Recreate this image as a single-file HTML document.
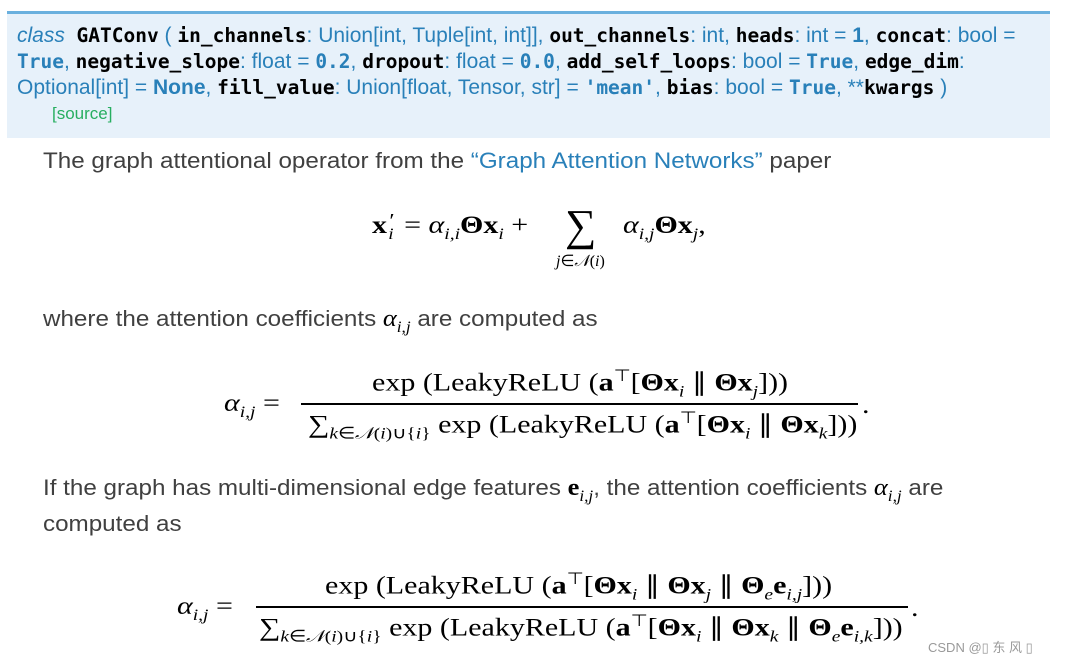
<!DOCTYPE html>
<html><head><meta charset="utf-8"><style>
body{margin:0;width:1066px;height:664px;background:#fff;position:relative;overflow:hidden;font-family:"Liberation Sans",sans-serif;}
.box{position:absolute;left:7px;top:11px;width:1043px;height:124px;background:#e7f1fa;border-top:3px solid #6ab0de;}
.l{position:absolute;white-space:nowrap;font-size:21px;color:#2980b9;transform-origin:left top;}
.m{font-family:"DejaVu Sans Mono","Liberation Mono",monospace;font-weight:bold;color:#000;font-size:19.5px;}
.v{font-family:"DejaVu Sans Mono","Liberation Mono",monospace;font-weight:bold;color:#2980b9;font-size:19.5px;}
.k{font-weight:bold;color:#2980b9}
.p{position:absolute;white-space:nowrap;font-size:22px;color:#404040;transform:scaleX(1.1);transform-origin:left top;}
.a{color:#2980b9}
.mt{position:absolute;white-space:nowrap;font-family:"Liberation Serif",serif;font-size:25px;color:#000;transform:scaleX(1.2);transform-origin:left top;}
.mt i{font-style:italic}
.mt b{font-weight:bold}
sub,sup{font-size:65%;}
.hr{position:absolute;height:1.5px;background:#000;}
</style></head><body>
<div class="box"></div>
<div class="l" style="left:17px;top:24px;"><i>class</i>&nbsp; <span class="m">GATConv</span> ( <span class="m">in_channels</span>: Union[int, Tuple[int, int]], <span class="m">out_channels</span>: int, <span class="m">heads</span>: int = <span class="k">1</span>, <span class="m">concat</span>: bool =</div>
<div class="l" style="left:17px;top:50px;"><span class="v">True</span>, <span class="m">negative_slope</span>: float = <span class="v">0.2</span>, <span class="m">dropout</span>: float = <span class="v">0.0</span>, <span class="m">add_self_loops</span>: bool = <span class="v">True</span>, <span class="m">edge_dim</span>:</div>
<div class="l" style="left:17px;top:76px;">Optional[int] = <span class="k">None</span>, <span class="m">fill_value</span>: Union[float, Tensor, str] = <span class="v">'mean'</span>, <span class="m">bias</span>: bool = <span class="v">True</span>, **<span class="m">kwargs</span> )</div>
<div class="l" style="left:52px;top:104px;font-size:17px;color:#27ae60;">[source]</div>

<div class="p" style="left:43px;top:148px;">The graph attentional operator from the <span class="a">“Graph Attention Networks”</span> paper</div>
<div class="mt" style="left:372px;top:212px;"><b>x</b><span style="position:relative;display:inline-block;width:8px;height:20px;vertical-align:top;"><i style="position:absolute;left:1px;top:14px;font-size:16px">i</i><span style="position:absolute;left:2px;top:-2px;font-size:20px">′</span></span> = <i>α</i><sub><i>i,i</i></sub><b>Θx</b><sub><i>i</i></sub> + </div>
<div class="mt" style="left:565px;top:200px;font-size:44px;transform:none">∑</div>
<div class="mt" style="left:556px;top:251px;font-size:16px;transform:none"><i>j</i>∈<i>𝒩</i>(<i>i</i>)</div>
<div class="mt" style="left:623px;top:212px;"><i>α</i><sub><i>i,j</i></sub><b>Θx</b><sub><i>j</i></sub>,</div>

<div class="p" style="left:43px;top:306px;">where the attention coefficients <span style="font-family:'Liberation Serif',serif;font-style:italic;color:#000;font-size:24px">α<sub>i,j</sub></span> are computed as</div>

<div class="mt" style="left:224px;top:390px;"><i>α</i><sub><i>i,j</i></sub> =</div>
<div class="mt" style="left:372px;top:366px;">exp (LeakyReLU (<b>a</b><sup>⊤</sup>[<b>Θx</b><sub><i>i</i></sub> ∥ <b>Θx</b><sub><i>j</i></sub>]))</div>
<div class="hr" style="left:301px;top:403px;width:557px;"></div>
<div class="mt" style="left:862px;top:392px;">.</div>
<div class="mt" style="left:308px;top:408px;">∑<sub><i>k</i>∈<i>𝒩</i>(<i>i</i>)∪{<i>i</i>}</sub> exp (LeakyReLU (<b>a</b><sup>⊤</sup>[<b>Θx</b><sub><i>i</i></sub> ∥ <b>Θx</b><sub><i>k</i></sub>]))</div>

<div class="p" style="left:43px;top:475px;">If the graph has multi-dimensional edge features <span style="font-family:'Liberation Serif',serif;color:#000;font-size:24px"><b>e</b><sub><i>i,j</i></sub></span>, the attention coefficients <span style="font-family:'Liberation Serif',serif;font-style:italic;color:#000;font-size:24px">α<sub>i,j</sub></span> are</div>
<div class="p" style="left:43px;top:511px;">computed as</div>

<div class="mt" style="left:177px;top:593px;"><i>α</i><sub><i>i,j</i></sub> =</div>
<div class="mt" style="left:325px;top:569px;">exp (LeakyReLU (<b>a</b><sup>⊤</sup>[<b>Θx</b><sub><i>i</i></sub> ∥ <b>Θx</b><sub><i>j</i></sub> ∥ <b>Θ</b><sub><i>e</i></sub><b>e</b><sub><i>i,j</i></sub>]))</div>
<div class="hr" style="left:256px;top:606px;width:652px;"></div>
<div class="mt" style="left:911px;top:595px;">.</div>
<div class="mt" style="left:259px;top:611px;">∑<sub><i>k</i>∈<i>𝒩</i>(<i>i</i>)∪{<i>i</i>}</sub> exp (LeakyReLU (<b>a</b><sup>⊤</sup>[<b>Θx</b><sub><i>i</i></sub> ∥ <b>Θx</b><sub><i>k</i></sub> ∥ <b>Θ</b><sub><i>e</i></sub><b>e</b><sub><i>i,k</i></sub>]))</div>

<div style="position:absolute;left:928px;top:637px;font-size:13px;color:#999;white-space:nowrap;">CSDN @▯ 东 风 ▯</div>
</body></html>
